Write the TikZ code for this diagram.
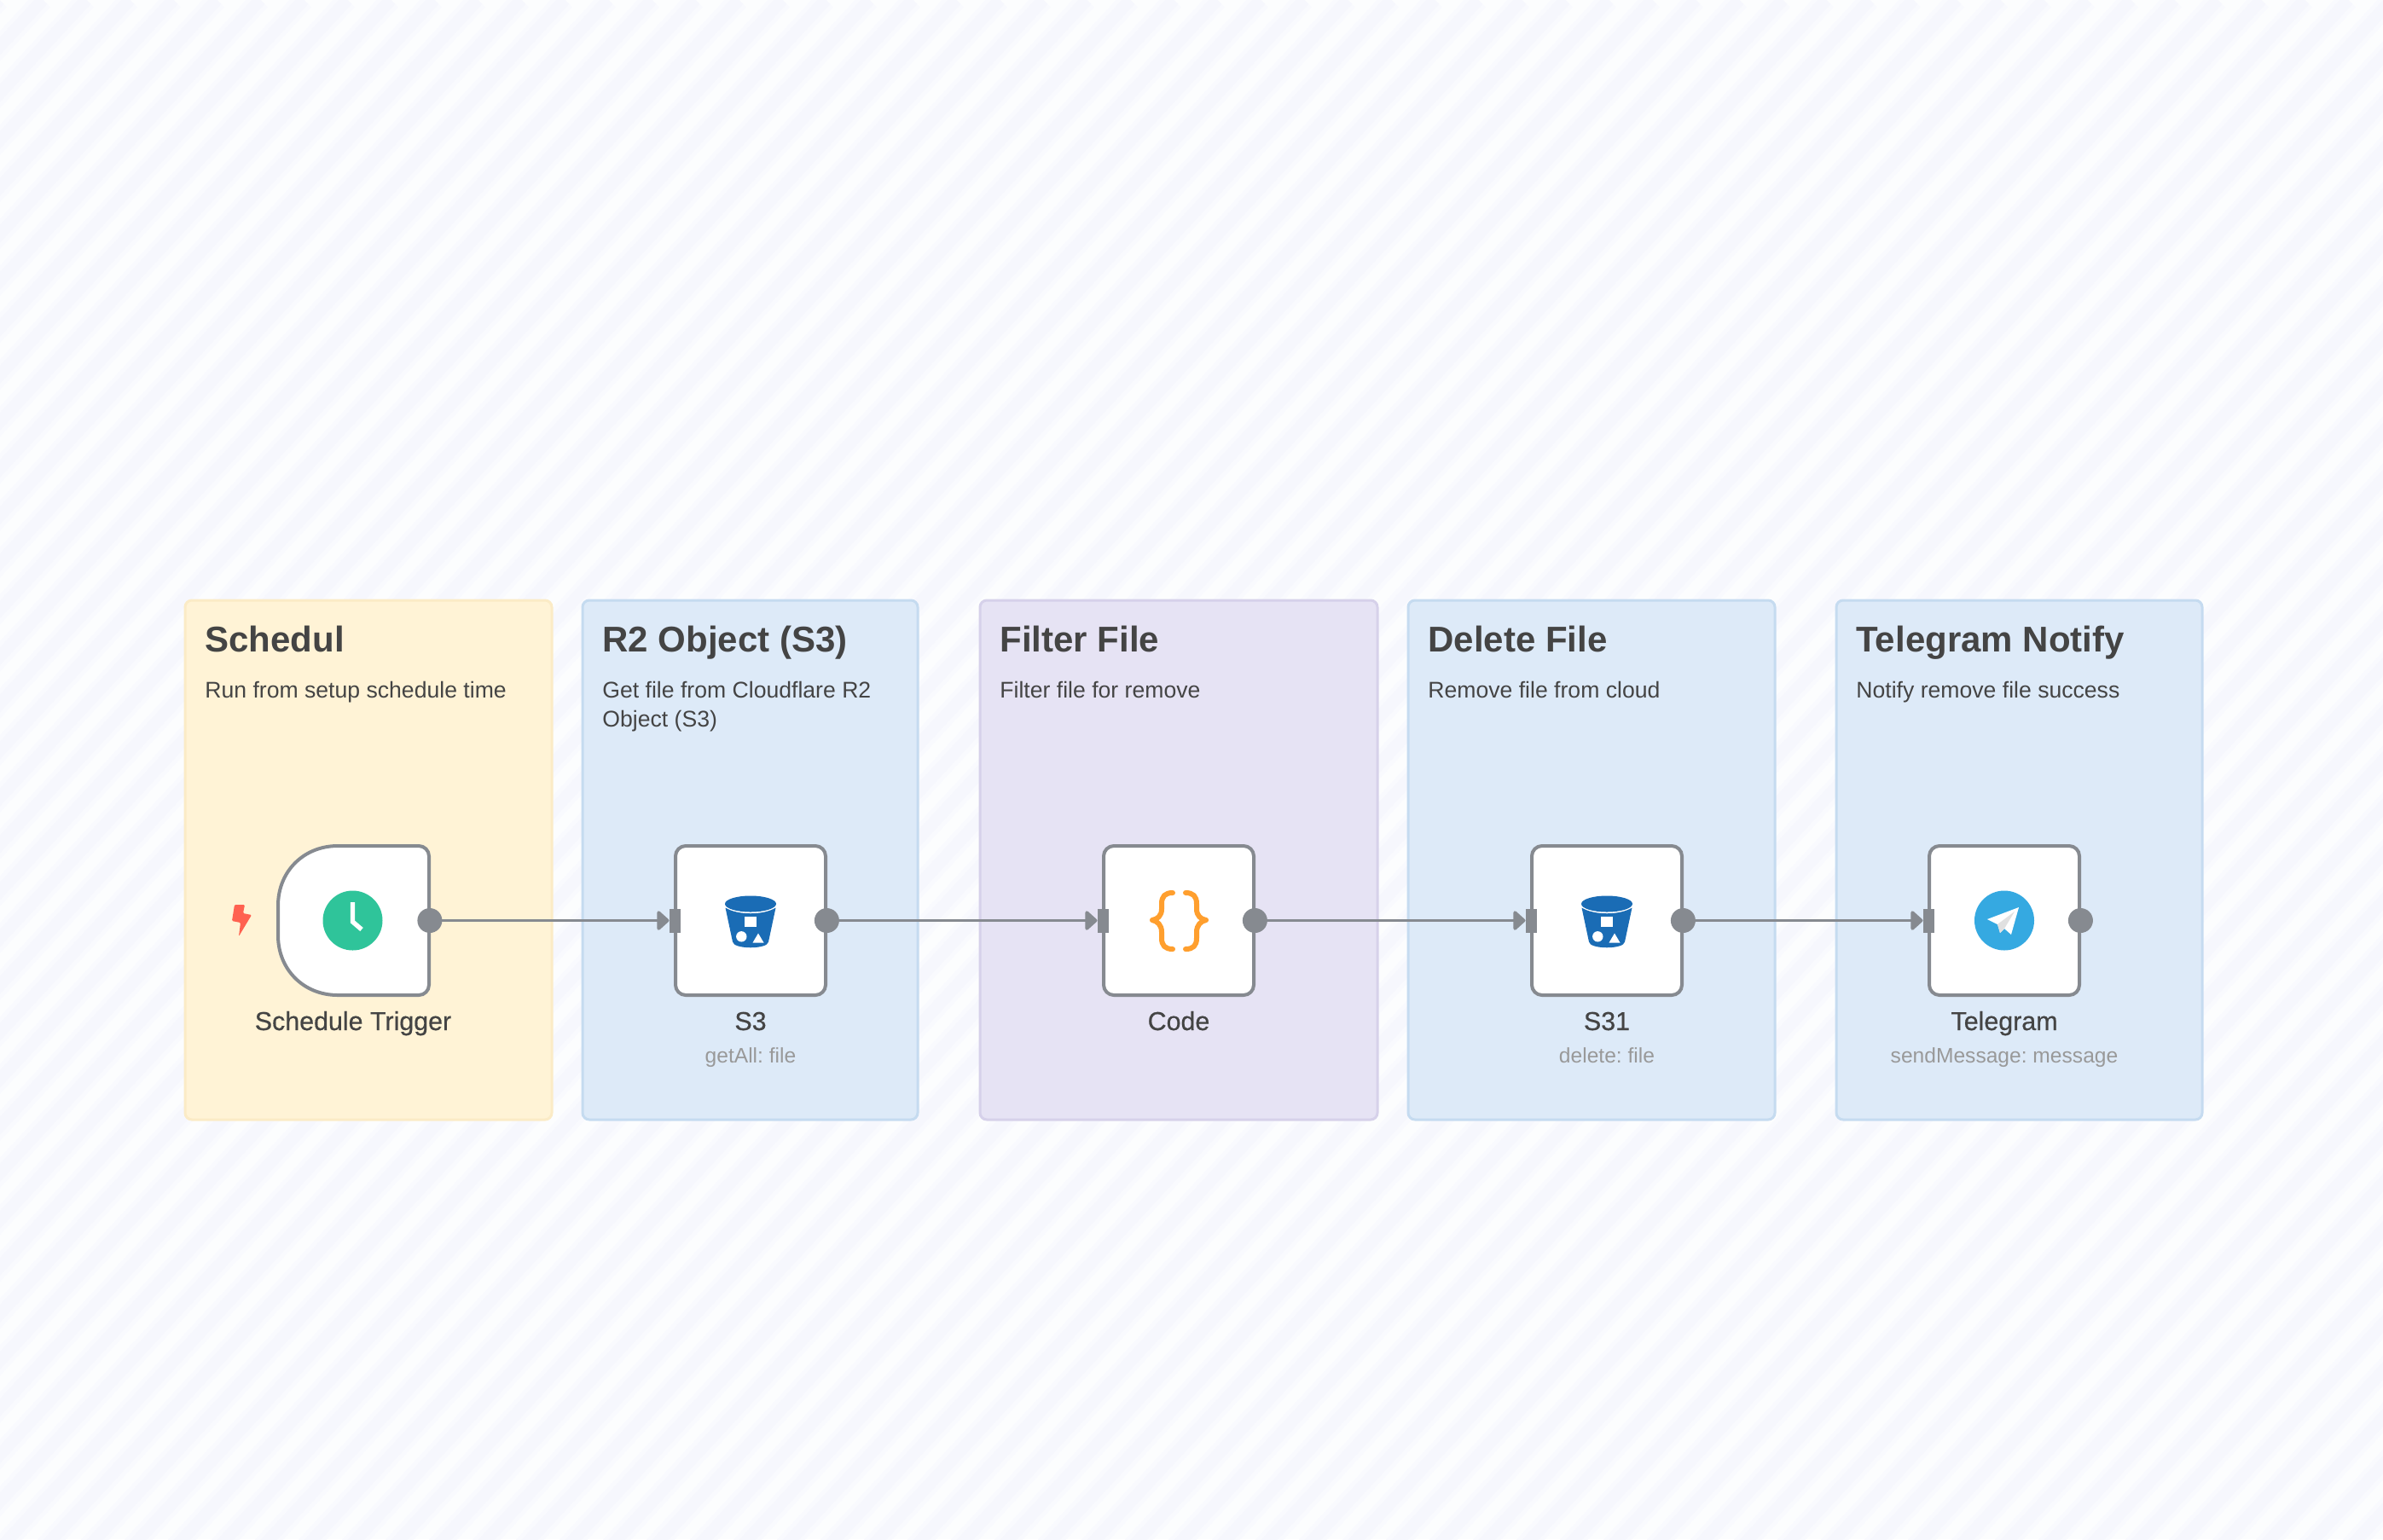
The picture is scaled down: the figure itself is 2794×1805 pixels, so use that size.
\documentclass[tikz,border=0pt]{standalone}
\usepackage{fontspec}
\setmainfont{Liberation Sans}
\newfontfamily\medfont[FakeBold=0.5]{Liberation Sans}
\frenchspacing
\usetikzlibrary{arrows.meta}
\definecolor{txt}{HTML}{444444}
\definecolor{subt}{HTML}{999999}
\definecolor{edge}{HTML}{868A90}
\definecolor{bgA}{HTML}{FCFDFE}
\definecolor{bgB}{HTML}{F9FAFE}
\definecolor{bgC}{HTML}{F6F7FD}
\definecolor{yelF}{HTML}{FFF3D6}
\definecolor{yelD}{HTML}{FBEBC6}
\definecolor{bluF}{HTML}{DDEAF8}
\definecolor{bluD}{HTML}{C5DBF0}
\definecolor{purF}{HTML}{E6E3F4}
\definecolor{purD}{HTML}{D6D1EA}
\definecolor{bucket}{HTML}{1A6CB5}
\definecolor{clockc}{HTML}{2FC49A}
\definecolor{tele}{HTML}{35A9E1}
\definecolor{brace}{HTML}{FF9F2E}
\definecolor{bolt}{HTML}{FF6150}
\tikzset{
 x=0.5pt,y=-0.5pt,
 panelbox/.style={draw,line width=1.5pt,rounded corners=4pt,anchor=north west,inner sep=0pt,outer sep=0pt},
 stepbox/.style={draw=edge,fill=white,line width=2pt,rounded corners=6pt,minimum width=88pt,minimum height=87.5pt,inner sep=0pt,outer sep=0pt},
 hitbox/.style={minimum width=88pt,minimum height=87.5pt,inner sep=0pt,outer sep=0pt},
 outdot/.style={circle,fill=edge,minimum size=14.5pt,inner sep=0pt,outer sep=0pt},
 inport/.style={rectangle,fill=edge,minimum width=6.5pt,minimum height=14pt,inner sep=0pt,outer sep=0pt},
 conn/.style={draw=edge,line width=1.8pt,-{Triangle[length=7.5pt,width=13pt,round]}},
 title/.style={anchor=base west,inner sep=0pt,text=txt,font=\fontsize{21}{25}\selectfont\bfseries},
 desc/.style={anchor=base west,inner sep=0pt,text=txt,font=\fontsize{13.3}{17.4}\selectfont,align=left},
 lbl/.style={anchor=base,inner sep=0pt,text=txt,font=\medfont\fontsize{15.2}{18}\selectfont},
 sublbl/.style={anchor=base,inner sep=0pt,text=subt,font=\fontsize{12.3}{16}\selectfont},
 bracket/.style={brace,line width=3pt,line cap=round,line join=round},
 pics/bucketicon/.style={code={
   \fill[bucket] (0,-19.5) ellipse (30 and 9.5);
   \fill[bucket] (-29.5,-15) .. controls (-15,-6) and (15,-6) .. (29.5,-15) -- (21,25) .. controls (20,34) and (-20,34) .. (-21,25) -- cycle;
   \fill[white] (-7,-5) rectangle (7,7.5);
   \fill[white] (-10.7,18.8) circle (6.2);
   \fill[white] (9,15) -- (15.5,26) -- (2.5,26) -- cycle;
 }}
}
\begin{document}
\begin{tikzpicture}
\useasboundingbox (0,0) rectangle (2794,1805);
\begin{scope}
\clip (0,0) rectangle (2794,1805);
\fill[bgA] (0,0) rectangle (2794,1805);
\foreach \i in {-2,...,95}{
  \pgfmathsetmacro{\xs}{50+51*\i}
  \draw[bgB,line width=12pt] (\xs,0) -- (\xs-1760,1900);
}
\foreach \i in {-2,...,95}{
  \pgfmathsetmacro{\xs}{50+51*\i}
  \draw[bgC,line width=7pt] (\xs,0) -- (\xs-1760,1900);
}
\end{scope}
% panels
\node[panelbox,draw=yelD,fill=yelF,minimum width=215pt,minimum height=304.5pt] (p1) at (217,704) {};
\node[panelbox,draw=bluD,fill=bluF,minimum width=196.5pt,minimum height=304.5pt] (p2) at (683,704) {};
\node[panelbox,draw=purD,fill=purF,minimum width=233pt,minimum height=304.5pt] (p3) at (1149,704) {};
\node[panelbox,draw=bluD,fill=bluF,minimum width=215pt,minimum height=304.5pt] (p4) at (1651,704) {};
\node[panelbox,draw=bluD,fill=bluF,minimum width=214.5pt,minimum height=304.5pt] (p5) at (2153,704) {};
% titles
\node[title] (t1) at (240,764) {Schedul};
\node[title] (t2) at (706,764) {R2 Object (S3)};
\node[title] (t3) at (1172,764) {Filter File};
\node[title] (t4) at (1674,764) {Delete File};
\node[title] (t5) at (2176,764) {Telegram Notify};
\node[desc] (d1) at (240,818) {Run from setup schedule time};
\node[desc] (d2) at (706,852.8) {Get file from Cloudflare R2\\Object (S3)};
\node[desc] (d3) at (1172,818) {Filter file for remove};
\node[desc] (d4) at (1674,818) {Remove file from cloud};
\node[desc] (d5) at (2176,818) {Notify remove file success};
% trigger node
\node[hitbox] (n1) at (414.5,1079.5) {};
\draw[draw=edge,fill=white,line width=2pt]
  (503,1004) -- (503,1155) arc[start angle=0,end angle=90,radius=12] -- (396,1167)
  .. controls (356,1167) and (326,1137) .. (326,1097) -- (326,1062)
  .. controls (326,1022) and (356,992) .. (396,992) -- (491,992)
  arc[start angle=-90,end angle=0,radius=12] -- cycle;
\node[stepbox] (n2) at (880,1079.5) {};
\node[stepbox] (n3) at (1382,1079.5) {};
\node[stepbox] (n4) at (1884,1079.5) {};
\node[stepbox] (n5) at (2350,1079.5) {};
% clock
\fill[clockc] (413.5,1079.5) circle (35);
\draw[white,line width=2.7pt] (413.5,1058) -- (413.5,1081) -- (424,1090);
% bolt
\fill[bolt,rounded corners=0.6pt] (275,1061) -- (287,1061) -- (285,1071) -- (295,1073) -- (280,1098) -- (282,1082) -- (272,1080) -- cycle;
% icons
\pic at (n2.center) {bucketicon};
\pic at (n4.center) {bucketicon};
\draw[bracket] (1375,1047) .. controls (1366,1047) and (1362,1051) .. (1362,1060) -- (1362,1066) .. controls (1362,1074) and (1357,1078) .. (1351,1079) .. controls (1357,1080) and (1362,1085) .. (1362,1093) -- (1362,1100) .. controls (1362,1109) and (1366,1113) .. (1375,1113);
\draw[bracket] (1390,1047) .. controls (1399,1047) and (1403,1051) .. (1403,1060) -- (1403,1066) .. controls (1403,1074) and (1408,1078) .. (1414,1079) .. controls (1408,1080) and (1403,1085) .. (1403,1093) -- (1403,1100) .. controls (1403,1109) and (1399,1113) .. (1390,1113);
\fill[tele] (n5.center) circle (35);
\fill[white] (2367,1064) -- (2330,1078) -- (2342,1084) -- (2345,1094) -- (2350,1089) -- (2358,1096) -- cycle;
\fill[black!12] (2342,1084) -- (2345,1094) -- (2350,1089) -- (2362,1069) -- cycle;
% ports
\node[outdot,xshift=0.7pt] (o1) at (n1.east) {};
\node[outdot,xshift=0.7pt] (o2) at (n2.east) {};
\node[outdot,xshift=0.7pt] (o3) at (n3.east) {};
\node[outdot,xshift=0.7pt] (o4) at (n4.east) {};
\node[outdot,xshift=0.7pt] (o5) at (n5.east) {};
\node[inport,xshift=-0.5pt] (i2) at (n2.west) {};
\node[inport,xshift=-0.5pt] (i3) at (n3.west) {};
\node[inport,xshift=-0.5pt] (i4) at (n4.west) {};
\node[inport,xshift=-0.5pt] (i5) at (n5.west) {};
\draw[conn] (o1) -- (i2);
\draw[conn] (o2) -- (i3);
\draw[conn] (o3) -- (i4);
\draw[conn] (o4) -- (i5);
% labels
\node[lbl] (l1) at (414,1208) {Schedule Trigger};
\node[lbl] (l2) at (880,1208) {S3};
\node[lbl] (l3) at (1382,1208) {Code};
\node[lbl] (l4) at (1884,1208) {S31};
\node[lbl] (l5) at (2350,1208) {Telegram};
\node[sublbl] (s2) at (880,1246) {getAll: file};
\node[sublbl] (s4) at (1884,1246) {delete: file};
\node[sublbl] (s5) at (2350,1246) {sendMessage: message};
\end{tikzpicture}
\end{document}
